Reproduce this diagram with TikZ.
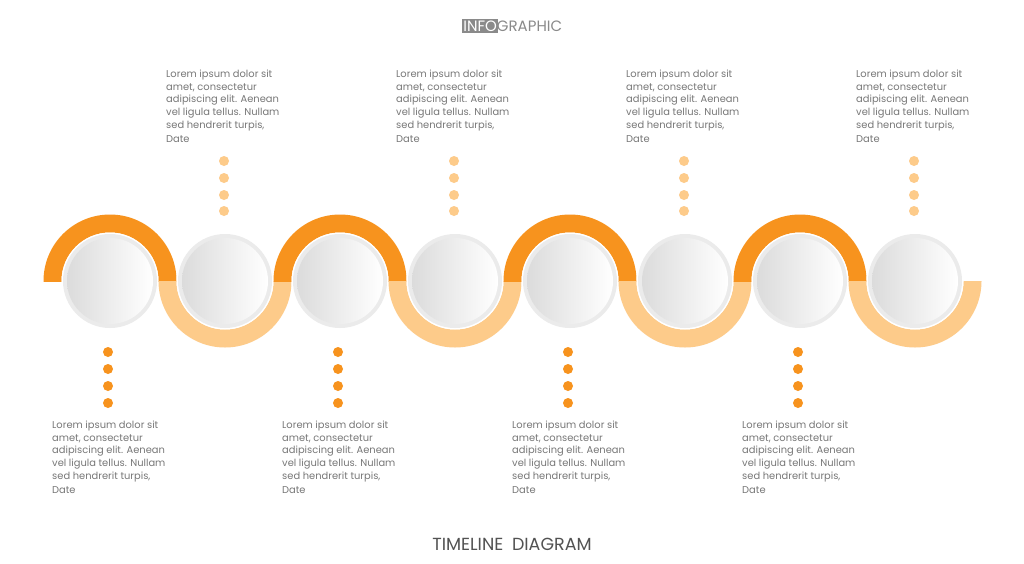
\documentclass[tikz,border=0pt]{standalone}
\usepackage{fontspec}
\setmainfont{Poppins}
\definecolor{odark}{HTML}{F7931E}
\definecolor{olight}{HTML}{FDCB8A}
\definecolor{txt}{HTML}{777777}
\definecolor{ringc}{HTML}{EBEBEB}
\definecolor{titc}{HTML}{8A8A8A}
\tikzset{
  body/.style={anchor=north west, align=left, inner sep=0pt, text=txt, font=\fontsize{9.9}{12.6}\selectfont},
}
\newcommand{\blocktext}{Lorem ipsum dolor sit\\amet, consectetur\\adipiscing elit. Aenean\\vel ligula tellus. Nullam\\sed hendrerit turpis,\\[1.4pt]Date}
\begin{document}
\begin{tikzpicture}[x=1pt,y=-1pt]
\useasboundingbox[fill=white] (0,0) rectangle (1024,563);
% bands
\foreach \i in {0,...,7}{
  \pgfmathsetmacro{\cx}{110+115*\i}
  \pgfmathparse{mod(\i,2)==0 ? 1 : 0}
  \ifnum\pgfmathresult=1
    \begin{scope}
      \clip (\cx-70,281) rectangle (\cx+70,200);
      \fill[odark, even odd rule] (\cx,281) circle (66.5) (\cx,281) circle (48.5);
    \end{scope}
  \else
    \begin{scope}
      \clip (\cx-70,281) rectangle (\cx+70,360);
      \fill[olight, even odd rule] (\cx,281) circle (66.5) (\cx,281) circle (48.5);
    \end{scope}
  \fi
  \fill[white] (\cx,281) circle (48.5);
  \fill[ringc] (\cx,281) circle (47);
  \shade[left color=black!14, right color=white] (\cx,281) circle (43);
}
% dots and texts
\foreach \k in {0,...,3}{
  \pgfmathsetmacro{\tx}{225+230*\k}
  \pgfmathsetmacro{\bx}{110+230*\k}
  \foreach \y in {161,178,195,211}{\fill[olight] (\tx-1,\y) circle (5);}
  \foreach \y in {352,369,386,403}{\fill[odark] (\bx-2,\y) circle (5);}
  \node[body] (top\k) at (\tx-59,70) {\blocktext};
  \node[body] (bot\k) at (\bx-58,421) {\blocktext};
}
% title
\node[inner sep=0pt, font=\fontsize{15}{15}\selectfont] (title) at (512,26) {\setlength{\fboxsep}{1.5pt}\colorbox{titc}{\color{white}INFO}\kern-1.5pt\textcolor{titc}{GRAPHIC}};
\node[inner sep=0pt, text=black!68, font=\fontsize{17.5}{17.5}\selectfont] (foot) at (512,544) {TIMELINE\enspace DIAGRAM};
\end{tikzpicture}
\end{document}
